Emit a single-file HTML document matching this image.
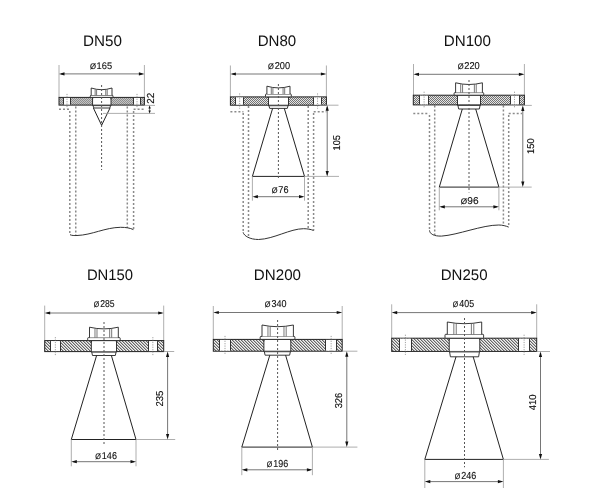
<!DOCTYPE html><html><head><meta charset="utf-8"><style>html,body{margin:0;padding:0;background:#fff;}svg{display:block;will-change:transform;}</style></head><body>
<svg text-rendering="geometricPrecision" width="609" height="503" viewBox="0 0 609 503" font-family='"Liberation Sans", sans-serif'>
<defs>
<pattern id="hatchD" patternUnits="userSpaceOnUse" x="0" y="0" width="3" height="3"><rect width="3" height="3" fill="#f2f2f2"/><rect x="0" y="0" width="1" height="1" fill="#666"/><rect x="1" y="1" width="1" height="1" fill="#666"/><rect x="2" y="2" width="1" height="1" fill="#666"/><rect x="1" y="0" width="1" height="1" fill="#b8b8b8"/><rect x="2" y="1" width="1" height="1" fill="#b8b8b8"/><rect x="0" y="2" width="1" height="1" fill="#b8b8b8"/></pattern>
<pattern id="hatchX" patternUnits="userSpaceOnUse" x="0" y="0" width="2" height="2"><rect width="2" height="2" fill="#e4e4e4"/><rect width="1" height="1" fill="#737373"/><rect x="1" y="1" width="1" height="1" fill="#737373"/></pattern>
<pattern id="hatchG" patternUnits="userSpaceOnUse" x="0" y="0" width="2" height="2"><rect width="2" height="2" fill="#c4c4c4"/><rect width="1" height="1" fill="#8e8e8e"/><rect x="1" y="1" width="1" height="1" fill="#8e8e8e"/></pattern>
</defs>
<rect width="609" height="503" fill="#fff"/>
<text x="0" y="0" font-size="15.262" fill="#111" transform="matrix(0.99809 0 0 1 83.050 45.800)">DN50</text>
<line x1="59" y1="65" x2="59" y2="97.5" stroke="#999" stroke-width="0.8" />
<line x1="144.4" y1="65" x2="144.4" y2="97.5" stroke="#999" stroke-width="0.8" />
<line x1="61" y1="73.9" x2="142.4" y2="73.9" stroke="#666" stroke-width="0.9" />
<polygon points="59,73.9 64.5,72.30000000000001 64.5,75.5" fill="#111"/>
<polygon points="144.4,73.9 138.9,72.30000000000001 138.9,75.5" fill="#111"/>
<text x="0" y="0" font-size="9.593" fill="#111" stroke="#111" stroke-width="0.12" transform="matrix(0.97203 0 0 1 89.930 68.800)"><tspan font-size="8.000" stroke-width="0.2">Ø</tspan><tspan dx="0.570">165</tspan></text>
<line x1="59" y1="109.2" x2="69.8" y2="109.2" stroke="#8a8a8a" stroke-width="1.5" stroke-dasharray="2,2" />
<line x1="133.6" y1="109.2" x2="144.4" y2="109.2" stroke="#8a8a8a" stroke-width="1.5" stroke-dasharray="2,2" />
<line x1="69.8" y1="111" x2="69.8" y2="234.5" stroke="#8a8a8a" stroke-width="1.5" stroke-dasharray="2,2" />
<line x1="133.6" y1="111" x2="133.6" y2="229.5" stroke="#8a8a8a" stroke-width="1.5" stroke-dasharray="2,2" />
<line x1="75.75" y1="106.5" x2="75.75" y2="235" stroke="#8a8a8a" stroke-width="1.5" stroke-dasharray="2,2" />
<line x1="127.3" y1="106.5" x2="127.3" y2="228" stroke="#8a8a8a" stroke-width="1.5" stroke-dasharray="2,2" />
<path d="M70,234.7 C72,235.6 74,235.6 77,235.5 C92,235 105,227.5 120.6,227.3 C126,227.3 130,228 133.4,229.6" fill="none" stroke="#333" stroke-width="1"/>
<rect x="59" y="97.4" width="85.4" height="7.699999999999989" fill="url(#hatchG)" stroke="#222" stroke-width="1"/>
<rect x="63.8" y="97.9" width="6.400000000000006" height="6.699999999999989" fill="#fff"/>
<line x1="63.5" y1="97.9" x2="63.5" y2="104.6" stroke="#333" stroke-width="1" />
<line x1="70.5" y1="97.9" x2="70.5" y2="104.6" stroke="#333" stroke-width="1" />
<line x1="67.0" y1="93.9" x2="67.0" y2="108.6" stroke="#777" stroke-width="0.7" stroke-dasharray="1.2,1.2" />
<rect x="133.8" y="97.9" width="6.399999999999977" height="6.699999999999989" fill="#fff"/>
<line x1="133.5" y1="97.9" x2="133.5" y2="104.6" stroke="#333" stroke-width="1" />
<line x1="140.5" y1="97.9" x2="140.5" y2="104.6" stroke="#333" stroke-width="1" />
<line x1="137.0" y1="93.9" x2="137.0" y2="108.6" stroke="#777" stroke-width="0.7" stroke-dasharray="1.2,1.2" />
<rect x="92.6" y="97.4" width="18.400000000000006" height="7.699999999999989" fill="#fff" stroke="#222" stroke-width="0.9"/>
<path d="M92.89999999999999,105.1 L93.8,108 L109.8,108 L110.7,105.1" fill="#fff" stroke="#222" stroke-width="0.9"/>
<path d="M91.6,97.7 L93.39999999999999,97.7 L92.8,99.60000000000001 Z M112,97.7 L110.2,97.7 L110.8,99.60000000000001 Z" fill="#333"/>
<line x1="92.89999999999999" y1="105.6" x2="110.7" y2="105.6" stroke="#333" stroke-width="1" />
<rect x="90.3" y="95.3" width="22.700000000000003" height="2.1000000000000085" fill="#fff" stroke="#222" stroke-width="0.9" rx="0.8"/>
<path d="M91.2,95.3 L91.2,88 Q101.6,91.4 112,88 L112,95.3" fill="#fff" stroke="#222" stroke-width="0.9"/>
<line x1="95.152" y1="89.4" x2="95.152" y2="95.3" stroke="#555" stroke-width="0.8" />
<line x1="96.608" y1="89.4" x2="96.608" y2="95.3" stroke="#555" stroke-width="0.8" />
<line x1="105.76" y1="89.4" x2="105.76" y2="95.3" stroke="#555" stroke-width="0.8" />
<line x1="107.21600000000001" y1="89.4" x2="107.21600000000001" y2="95.3" stroke="#555" stroke-width="0.8" />
<path d="M93.4,108 L101.6,125.3 L110,108" fill="none" stroke="#222" stroke-width="1"/>
<line x1="101.6" y1="85" x2="101.6" y2="170" stroke="#555" stroke-width="1" stroke-dasharray="2,2" />
<line x1="144.4" y1="105.4" x2="155" y2="105.4" stroke="#999" stroke-width="0.8" />
<line x1="103" y1="113.4" x2="155" y2="113.4" stroke="#999" stroke-width="0.8" />
<line x1="149.6" y1="107.4" x2="149.6" y2="111.4" stroke="#666" stroke-width="0.9" />
<polygon points="149.6,105.4 148.4,108.4 150.79999999999998,108.4" fill="#111"/>
<polygon points="149.6,113.4 148.4,110.4 150.79999999999998,110.4" fill="#111"/>
<text x="0" y="0" font-size="10.175" fill="#111" stroke="#111" stroke-width="0.15" transform="matrix(0 -0.96174 1 0 154.400 103.692)">22</text>
<text x="0" y="0" font-size="15.262" fill="#111" transform="matrix(0.98733 0 0 1 257.664 45.800)">DN80</text>
<line x1="230.4" y1="65.5" x2="230.4" y2="97" stroke="#999" stroke-width="0.8" />
<line x1="326.4" y1="65.5" x2="326.4" y2="97" stroke="#999" stroke-width="0.8" />
<line x1="232.4" y1="74.0" x2="324.4" y2="74.0" stroke="#666" stroke-width="0.9" />
<polygon points="230.4,74.0 235.9,72.4 235.9,75.6" fill="#111"/>
<polygon points="326.4,74.0 320.9,72.4 320.9,75.6" fill="#111"/>
<text x="0" y="0" font-size="9.884" fill="#111" stroke="#111" stroke-width="0.12" transform="matrix(0.93544 0 0 1 268.041 69.000)"><tspan font-size="8.000" stroke-width="0.2">Ø</tspan><tspan dx="0.827">200</tspan></text>
<line x1="230.4" y1="111.8" x2="243.4" y2="111.8" stroke="#8a8a8a" stroke-width="1.5" stroke-dasharray="2,2" />
<line x1="313.7" y1="111.8" x2="326.4" y2="111.8" stroke="#8a8a8a" stroke-width="1.5" stroke-dasharray="2,2" />
<line x1="243.2" y1="113" x2="243.2" y2="232" stroke="#8a8a8a" stroke-width="1.5" stroke-dasharray="2,2" />
<line x1="313.6" y1="113" x2="313.6" y2="230.5" stroke="#8a8a8a" stroke-width="1.5" stroke-dasharray="2,2" />
<line x1="248.5" y1="106" x2="248.5" y2="237" stroke="#8a8a8a" stroke-width="1.5" stroke-dasharray="2,2" />
<line x1="308.2" y1="106" x2="308.2" y2="229" stroke="#8a8a8a" stroke-width="1.5" stroke-dasharray="2,2" />
<path d="M243.1,232.3 C244,236 250,239.5 258.5,239.5 C274,239 290,228.7 303.6,228.7 C307,228.7 311,229.3 313.6,230.5" fill="none" stroke="#333" stroke-width="1"/>
<rect x="230.4" y="96.9" width="95.99999999999997" height="8.299999999999997" fill="url(#hatchX)" stroke="#222" stroke-width="1"/>
<rect x="235.9" y="97.4" width="7.5" height="7.299999999999997" fill="#fff"/>
<line x1="235.5" y1="97.4" x2="235.5" y2="104.7" stroke="#333" stroke-width="1" />
<line x1="243.5" y1="97.4" x2="243.5" y2="104.7" stroke="#333" stroke-width="1" />
<line x1="239.65" y1="93.4" x2="239.65" y2="108.7" stroke="#777" stroke-width="0.7" stroke-dasharray="1.2,1.2" />
<rect x="313.7" y="97.4" width="7.699999999999989" height="7.299999999999997" fill="#fff"/>
<line x1="313.5" y1="97.4" x2="313.5" y2="104.7" stroke="#333" stroke-width="1" />
<line x1="321.5" y1="97.4" x2="321.5" y2="104.7" stroke="#333" stroke-width="1" />
<line x1="317.54999999999995" y1="93.4" x2="317.54999999999995" y2="108.7" stroke="#777" stroke-width="0.7" stroke-dasharray="1.2,1.2" />
<rect x="268.5" y="96.9" width="20.0" height="8.299999999999997" fill="#fff" stroke="#222" stroke-width="0.9"/>
<path d="M268.8,105.2 L269.7,108.4 L287.3,108.4 L288.2,105.2" fill="#fff" stroke="#222" stroke-width="0.9"/>
<path d="M267.5,97.2 L269.3,97.2 L268.7,99.10000000000001 Z M289.5,97.2 L287.7,97.2 L288.3,99.10000000000001 Z" fill="#333"/>
<line x1="268.8" y1="105.7" x2="288.2" y2="105.7" stroke="#333" stroke-width="1" />
<rect x="265.5" y="94" width="25.80000000000001" height="2.9000000000000057" fill="#fff" stroke="#222" stroke-width="0.9" rx="0.8"/>
<path d="M266.9,94 L266.9,86.2 Q278.4,89.60000000000001 290,86.2 L290,94" fill="#fff" stroke="#222" stroke-width="0.9"/>
<line x1="271.289" y1="87.60000000000001" x2="271.289" y2="94" stroke="#555" stroke-width="0.8" />
<line x1="272.906" y1="87.60000000000001" x2="272.906" y2="94" stroke="#555" stroke-width="0.8" />
<line x1="283.07" y1="87.60000000000001" x2="283.07" y2="94" stroke="#555" stroke-width="0.8" />
<line x1="284.687" y1="87.60000000000001" x2="284.687" y2="94" stroke="#555" stroke-width="0.8" />
<path d="M272.6,108.4 L252.4,176.4 L304.5,176.4 L284.3,108.4" fill="none" stroke="#222" stroke-width="1"/>
<line x1="278.4" y1="84" x2="278.4" y2="180" stroke="#555" stroke-width="1" stroke-dasharray="2,2" />
<line x1="304.5" y1="176.4" x2="339" y2="176.4" stroke="#999" stroke-width="0.8" />
<line x1="319.5" y1="105.2" x2="338.5" y2="105.2" stroke="#999" stroke-width="0.8" />
<line x1="327.2" y1="107.2" x2="327.2" y2="174.4" stroke="#666" stroke-width="0.9" />
<polygon points="327.2,105.2 325.59999999999997,110.7 328.8,110.7" fill="#111"/>
<polygon points="327.2,176.4 325.59999999999997,170.9 328.8,170.9" fill="#111"/>
<text x="0" y="0" font-size="9.884" fill="#111" stroke="#111" stroke-width="0.15" transform="matrix(0 -0.93324 1 0 340.200 150.403)">105</text>
<line x1="252.4" y1="176.4" x2="252.4" y2="200.7" stroke="#999" stroke-width="0.8" />
<line x1="304.5" y1="176.4" x2="304.5" y2="200.7" stroke="#999" stroke-width="0.8" />
<line x1="254.4" y1="196.7" x2="302.5" y2="196.7" stroke="#666" stroke-width="0.9" />
<polygon points="252.4,196.7 257.9,195.1 257.9,198.29999999999998" fill="#111"/>
<polygon points="304.5,196.7 299.0,195.1 299.0,198.29999999999998" fill="#111"/>
<text x="0" y="0" font-size="9.884" fill="#111" stroke="#111" stroke-width="0.12" transform="matrix(0.92420 0 0 1 271.744 192.900)"><tspan font-size="8.000" stroke-width="0.2">Ø</tspan><tspan dx="0.916">76</tspan></text>
<text x="0" y="0" font-size="15.262" fill="#111" transform="matrix(0.99433 0 0 1 443.755 45.800)">DN100</text>
<line x1="413.5" y1="64" x2="413.5" y2="95" stroke="#999" stroke-width="0.8" />
<line x1="524.4" y1="64" x2="524.4" y2="95" stroke="#999" stroke-width="0.8" />
<line x1="415.5" y1="74.3" x2="522.4" y2="74.3" stroke="#666" stroke-width="0.9" />
<polygon points="413.5,74.3 419.0,72.7 419.0,75.89999999999999" fill="#111"/>
<polygon points="524.4,74.3 518.9,72.7 518.9,75.89999999999999" fill="#111"/>
<text x="0" y="0" font-size="9.884" fill="#111" stroke="#111" stroke-width="0.12" transform="matrix(0.94184 0 0 1 457.639 68.700)"><tspan font-size="8.000" stroke-width="0.2">Ø</tspan><tspan dx="0.777">220</tspan></text>
<line x1="413.3" y1="113.4" x2="429.4" y2="113.4" stroke="#8a8a8a" stroke-width="1.5" stroke-dasharray="2,2" />
<line x1="508.7" y1="113.4" x2="522" y2="113.4" stroke="#8a8a8a" stroke-width="1.5" stroke-dasharray="2,2" />
<line x1="429.5" y1="115" x2="429.5" y2="230.4" stroke="#8a8a8a" stroke-width="1.5" stroke-dasharray="2,2" />
<line x1="508.7" y1="115" x2="508.7" y2="227" stroke="#8a8a8a" stroke-width="1.5" stroke-dasharray="2,2" />
<line x1="434.7" y1="105.5" x2="434.7" y2="235" stroke="#8a8a8a" stroke-width="1.5" stroke-dasharray="2,2" />
<line x1="503.4" y1="105.5" x2="503.4" y2="225.5" stroke="#8a8a8a" stroke-width="1.5" stroke-dasharray="2,2" />
<path d="M429.5,230.4 C429.8,234 434,236.3 441.5,236.1 C458,235 482,225 498.8,225 C502.5,225 506,226 508.7,227.1" fill="none" stroke="#333" stroke-width="1"/>
<rect x="413.3" y="95.2" width="111.09999999999997" height="9.700000000000003" fill="url(#hatchX)" stroke="#222" stroke-width="1"/>
<rect x="419.9" y="95.7" width="8.400000000000034" height="8.700000000000003" fill="#fff"/>
<line x1="419.5" y1="95.7" x2="419.5" y2="104.4" stroke="#333" stroke-width="1" />
<line x1="428.5" y1="95.7" x2="428.5" y2="104.4" stroke="#333" stroke-width="1" />
<line x1="424.1" y1="91.7" x2="424.1" y2="108.4" stroke="#777" stroke-width="0.7" stroke-dasharray="1.2,1.2" />
<rect x="510" y="95.7" width="9" height="8.700000000000003" fill="#fff"/>
<line x1="510.5" y1="95.7" x2="510.5" y2="104.4" stroke="#333" stroke-width="1" />
<line x1="519.5" y1="95.7" x2="519.5" y2="104.4" stroke="#333" stroke-width="1" />
<line x1="514.5" y1="91.7" x2="514.5" y2="108.4" stroke="#777" stroke-width="0.7" stroke-dasharray="1.2,1.2" />
<rect x="457.5" y="95.2" width="23.0" height="9.700000000000003" fill="#fff" stroke="#222" stroke-width="0.9"/>
<path d="M457.8,104.9 L458.7,109 L479.3,109 L480.2,104.9" fill="#fff" stroke="#222" stroke-width="0.9"/>
<path d="M456.5,95.5 L458.3,95.5 L457.7,97.4 Z M481.5,95.5 L479.7,95.5 L480.3,97.4 Z" fill="#333"/>
<line x1="457.8" y1="105.4" x2="480.2" y2="105.4" stroke="#333" stroke-width="1" />
<rect x="454.1" y="92.6" width="29.599999999999966" height="2.6000000000000085" fill="#fff" stroke="#222" stroke-width="0.9" rx="0.8"/>
<path d="M455.6,92.6 L455.6,82.8 Q469,86.2 482.4,82.8 L482.4,92.6" fill="#fff" stroke="#222" stroke-width="0.9"/>
<line x1="460.692" y1="84.2" x2="460.692" y2="92.6" stroke="#555" stroke-width="0.8" />
<line x1="462.568" y1="84.2" x2="462.568" y2="92.6" stroke="#555" stroke-width="0.8" />
<line x1="474.36" y1="84.2" x2="474.36" y2="92.6" stroke="#555" stroke-width="0.8" />
<line x1="476.236" y1="84.2" x2="476.236" y2="92.6" stroke="#555" stroke-width="0.8" />
<path d="M462.3,109 L439.3,187.1 L498.9,187.1 L475.7,109" fill="none" stroke="#222" stroke-width="1"/>
<line x1="469" y1="80" x2="469" y2="192.5" stroke="#555" stroke-width="1" stroke-dasharray="2,2" />
<line x1="498.9" y1="187.1" x2="531.7" y2="187.1" stroke="#999" stroke-width="0.8" />
<line x1="517" y1="105.4" x2="531.8" y2="105.4" stroke="#999" stroke-width="0.8" />
<line x1="522.8" y1="107.4" x2="522.8" y2="185.1" stroke="#666" stroke-width="0.9" />
<polygon points="522.8,105.4 521.1999999999999,110.9 524.4,110.9" fill="#111"/>
<polygon points="522.8,187.1 521.1999999999999,181.6 524.4,181.6" fill="#111"/>
<text x="0" y="0" font-size="9.884" fill="#111" stroke="#111" stroke-width="0.15" transform="matrix(0 -0.95102 1 0 533.800 154.016)">150</text>
<line x1="439.3" y1="187.1" x2="439.3" y2="210.3" stroke="#999" stroke-width="0.8" />
<line x1="498.9" y1="187.1" x2="498.9" y2="210.3" stroke="#999" stroke-width="0.8" />
<line x1="441.3" y1="206.8" x2="496.9" y2="206.8" stroke="#666" stroke-width="0.9" />
<polygon points="439.3,206.8 444.8,205.20000000000002 444.8,208.4" fill="#111"/>
<polygon points="498.9,206.8 493.4,205.20000000000002 493.4,208.4" fill="#111"/>
<text x="0" y="0" font-size="9.884" fill="#111" stroke="#111" stroke-width="0.12" transform="matrix(1.02337 0 0 1 460.716 203.800)"><tspan font-size="8.000" stroke-width="0.2">Ø</tspan><tspan dx="0.205">96</tspan></text>
<text x="0" y="0" font-size="15.262" fill="#111" transform="matrix(0.97243 0 0 1 86.883 279.800)">DN150</text>
<line x1="44.7" y1="305.6" x2="44.7" y2="340.6" stroke="#999" stroke-width="0.8" />
<line x1="163.7" y1="305.6" x2="163.7" y2="340.6" stroke="#999" stroke-width="0.8" />
<line x1="46.7" y1="313" x2="161.7" y2="313" stroke="#666" stroke-width="0.9" />
<polygon points="44.7,313 50.2,311.4 50.2,314.6" fill="#111"/>
<polygon points="163.7,313 158.2,311.4 158.2,314.6" fill="#111"/>
<text x="0" y="0" font-size="9.884" fill="#111" stroke="#111" stroke-width="0.12" transform="matrix(0.87299 0 0 1 93.658 307.300)"><tspan font-size="8.000" stroke-width="0.2">Ø</tspan><tspan dx="1.347">285</tspan></text>
<rect x="44.7" y="340.6" width="118.99999999999999" height="11.0" fill="url(#hatchD)" stroke="#222" stroke-width="1"/>
<rect x="50.7" y="341.1" width="9.299999999999997" height="10.0" fill="#fff"/>
<line x1="50.5" y1="341.1" x2="50.5" y2="351.1" stroke="#333" stroke-width="1" />
<line x1="60.5" y1="341.1" x2="60.5" y2="351.1" stroke="#333" stroke-width="1" />
<line x1="55.35" y1="337.1" x2="55.35" y2="355.1" stroke="#777" stroke-width="0.7" stroke-dasharray="1.2,1.2" />
<rect x="148.3" y="341.1" width="9.099999999999994" height="10.0" fill="#fff"/>
<line x1="148.5" y1="341.1" x2="148.5" y2="351.1" stroke="#333" stroke-width="1" />
<line x1="157.5" y1="341.1" x2="157.5" y2="351.1" stroke="#333" stroke-width="1" />
<line x1="152.85000000000002" y1="337.1" x2="152.85000000000002" y2="355.1" stroke="#777" stroke-width="0.7" stroke-dasharray="1.2,1.2" />
<rect x="91.3" y="340.6" width="25.200000000000003" height="11.0" fill="#fff" stroke="#222" stroke-width="0.9"/>
<path d="M91.6,351.6 L92.5,355.5 L115.3,355.5 L116.2,351.6" fill="#fff" stroke="#222" stroke-width="0.9"/>
<path d="M90.3,340.90000000000003 L92.1,340.90000000000003 L91.5,342.8 Z M117.5,340.90000000000003 L115.7,340.90000000000003 L116.3,342.8 Z" fill="#333"/>
<line x1="91.6" y1="352.1" x2="116.2" y2="352.1" stroke="#333" stroke-width="1" />
<rect x="87.7" y="337.6" width="32.5" height="3.0" fill="#fff" stroke="#222" stroke-width="0.9" rx="0.8"/>
<path d="M89.5,337.6 L89.5,327.2 Q104,330.59999999999997 118.3,327.2 L118.3,337.6" fill="#fff" stroke="#222" stroke-width="0.9"/>
<line x1="94.972" y1="328.59999999999997" x2="94.972" y2="337.6" stroke="#555" stroke-width="0.8" />
<line x1="96.988" y1="328.59999999999997" x2="96.988" y2="337.6" stroke="#555" stroke-width="0.8" />
<line x1="109.66" y1="328.59999999999997" x2="109.66" y2="337.6" stroke="#555" stroke-width="0.8" />
<line x1="111.676" y1="328.59999999999997" x2="111.676" y2="337.6" stroke="#555" stroke-width="0.8" />
<path d="M96.6,355.5 L71.3,439.5 L136,439.5 L111.4,355.5" fill="none" stroke="#222" stroke-width="1"/>
<line x1="104" y1="322" x2="104" y2="445" stroke="#555" stroke-width="1" stroke-dasharray="2,2" />
<line x1="136" y1="439.5" x2="175.2" y2="439.5" stroke="#999" stroke-width="0.8" />
<line x1="163.7" y1="351.5" x2="174.2" y2="351.5" stroke="#999" stroke-width="0.8" />
<line x1="167.6" y1="353.5" x2="167.6" y2="437.5" stroke="#666" stroke-width="0.9" />
<polygon points="167.6,351.5 166.0,357.0 169.2,357.0" fill="#111"/>
<polygon points="167.6,439.5 166.0,434.0 169.2,434.0" fill="#111"/>
<text x="0" y="0" font-size="10.029" fill="#111" stroke="#111" stroke-width="0.15" transform="matrix(0 -0.94890 1 0 163.200 406.579)">235</text>
<line x1="71.3" y1="439.5" x2="71.3" y2="466.3" stroke="#999" stroke-width="0.8" />
<line x1="136" y1="439.5" x2="136" y2="466.3" stroke="#999" stroke-width="0.8" />
<line x1="73.3" y1="461.7" x2="134" y2="461.7" stroke="#666" stroke-width="0.9" />
<polygon points="71.3,461.7 76.8,460.09999999999997 76.8,463.3" fill="#111"/>
<polygon points="136,461.7 130.5,460.09999999999997 130.5,463.3" fill="#111"/>
<text x="0" y="0" font-size="9.884" fill="#111" stroke="#111" stroke-width="0.12" transform="matrix(0.91195 0 0 1 95.247 458.500)"><tspan font-size="8.000" stroke-width="0.2">Ø</tspan><tspan dx="1.026">146</tspan></text>
<text x="0" y="0" font-size="15.262" fill="#111" transform="matrix(0.99214 0 0 1 253.858 279.800)">DN200</text>
<line x1="213.3" y1="306" x2="213.3" y2="339.5" stroke="#999" stroke-width="0.8" />
<line x1="342.2" y1="306" x2="342.2" y2="339.5" stroke="#999" stroke-width="0.8" />
<line x1="215.3" y1="312.5" x2="340.2" y2="312.5" stroke="#666" stroke-width="0.9" />
<polygon points="213.3,312.5 218.8,310.9 218.8,314.1" fill="#111"/>
<polygon points="342.2,312.5 336.7,310.9 336.7,314.1" fill="#111"/>
<text x="0" y="0" font-size="9.884" fill="#111" stroke="#111" stroke-width="0.12" transform="matrix(0.91014 0 0 1 264.848 307.300)"><tspan font-size="8.000" stroke-width="0.2">Ø</tspan><tspan dx="1.023">340</tspan></text>
<rect x="213.3" y="339.4" width="128.89999999999998" height="11.800000000000011" fill="url(#hatchD)" stroke="#222" stroke-width="1"/>
<rect x="219.5" y="339.9" width="11.0" height="10.800000000000011" fill="#fff"/>
<line x1="219.5" y1="339.9" x2="219.5" y2="350.7" stroke="#333" stroke-width="1" />
<line x1="230.5" y1="339.9" x2="230.5" y2="350.7" stroke="#333" stroke-width="1" />
<line x1="225.0" y1="335.9" x2="225.0" y2="354.7" stroke="#777" stroke-width="0.7" stroke-dasharray="1.2,1.2" />
<rect x="325.9" y="339.9" width="10.5" height="10.800000000000011" fill="#fff"/>
<line x1="325.5" y1="339.9" x2="325.5" y2="350.7" stroke="#333" stroke-width="1" />
<line x1="336.5" y1="339.9" x2="336.5" y2="350.7" stroke="#333" stroke-width="1" />
<line x1="331.15" y1="335.9" x2="331.15" y2="354.7" stroke="#777" stroke-width="0.7" stroke-dasharray="1.2,1.2" />
<rect x="263.9" y="339.4" width="26.900000000000034" height="11.800000000000011" fill="#fff" stroke="#222" stroke-width="0.9"/>
<path d="M264.2,351.2 L265.09999999999997,355.2 L289.6,355.2 L290.5,351.2" fill="#fff" stroke="#222" stroke-width="0.9"/>
<path d="M262.9,339.7 L264.7,339.7 L264.09999999999997,341.59999999999997 Z M291.8,339.7 L290.0,339.7 L290.6,341.59999999999997 Z" fill="#333"/>
<line x1="264.2" y1="351.7" x2="290.5" y2="351.7" stroke="#333" stroke-width="1" />
<rect x="260.2" y="336.4" width="34.69999999999999" height="3.0" fill="#fff" stroke="#222" stroke-width="0.9" rx="0.8"/>
<path d="M262,336.4 L262,325 Q277.6,328.4 293.4,325 L293.4,336.4" fill="#fff" stroke="#222" stroke-width="0.9"/>
<line x1="267.966" y1="326.4" x2="267.966" y2="336.4" stroke="#555" stroke-width="0.8" />
<line x1="270.164" y1="326.4" x2="270.164" y2="336.4" stroke="#555" stroke-width="0.8" />
<line x1="283.97999999999996" y1="326.4" x2="283.97999999999996" y2="336.4" stroke="#555" stroke-width="0.8" />
<line x1="286.178" y1="326.4" x2="286.178" y2="336.4" stroke="#555" stroke-width="0.8" />
<path d="M269.8,355.2 L241.8,447.1 L312.4,447.1 L285.6,355.2" fill="none" stroke="#222" stroke-width="1"/>
<line x1="277.6" y1="320" x2="277.6" y2="452" stroke="#555" stroke-width="1" stroke-dasharray="2,2" />
<line x1="312.4" y1="447.1" x2="357.4" y2="447.1" stroke="#999" stroke-width="0.8" />
<line x1="342.2" y1="351.2" x2="357.4" y2="351.2" stroke="#999" stroke-width="0.8" />
<line x1="346.8" y1="353.2" x2="346.8" y2="445.1" stroke="#666" stroke-width="0.9" />
<polygon points="346.8,351.2 345.2,356.7 348.40000000000003,356.7" fill="#111"/>
<polygon points="346.8,447.1 345.2,441.6 348.40000000000003,441.6" fill="#111"/>
<text x="0" y="0" font-size="10.029" fill="#111" stroke="#111" stroke-width="0.15" transform="matrix(0 -0.93648 1 0 342.000 408.358)">326</text>
<line x1="241.8" y1="447.1" x2="241.8" y2="475.2" stroke="#999" stroke-width="0.8" />
<line x1="312.4" y1="447.1" x2="312.4" y2="475.2" stroke="#999" stroke-width="0.8" />
<line x1="243.8" y1="469.8" x2="310.4" y2="469.8" stroke="#666" stroke-width="0.9" />
<polygon points="241.8,469.8 247.3,468.2 247.3,471.40000000000003" fill="#111"/>
<polygon points="312.4,469.8 306.9,468.2 306.9,471.40000000000003" fill="#111"/>
<text x="0" y="0" font-size="10.175" fill="#111" stroke="#111" stroke-width="0.12" transform="matrix(0.87955 0 0 1 266.656 466.800)"><tspan font-size="8.000" stroke-width="0.2">Ø</tspan><tspan dx="1.288">196</tspan></text>
<text x="0" y="0" font-size="15.262" fill="#111" transform="matrix(0.98557 0 0 1 440.766 279.800)">DN250</text>
<line x1="391.7" y1="304.3" x2="391.7" y2="338.2" stroke="#999" stroke-width="0.8" />
<line x1="536.7" y1="304.3" x2="536.7" y2="338.2" stroke="#999" stroke-width="0.8" />
<line x1="393.7" y1="312.6" x2="534.7" y2="312.6" stroke="#666" stroke-width="0.9" />
<polygon points="391.7,312.6 397.2,311.0 397.2,314.20000000000005" fill="#111"/>
<polygon points="536.7,312.6 531.2,311.0 531.2,314.20000000000005" fill="#111"/>
<text x="0" y="0" font-size="10.175" fill="#111" stroke="#111" stroke-width="0.12" transform="matrix(0.86776 0 0 1 452.759 307.300)"><tspan font-size="8.000" stroke-width="0.2">Ø</tspan><tspan dx="1.361">405</tspan></text>
<rect x="391.7" y="338.2" width="145.00000000000006" height="13.199999999999989" fill="url(#hatchD)" stroke="#222" stroke-width="1"/>
<rect x="399.8" y="338.7" width="11.199999999999989" height="12.199999999999989" fill="#fff"/>
<line x1="399.5" y1="338.7" x2="399.5" y2="350.9" stroke="#333" stroke-width="1" />
<line x1="411.5" y1="338.7" x2="411.5" y2="350.9" stroke="#333" stroke-width="1" />
<line x1="405.4" y1="334.7" x2="405.4" y2="354.9" stroke="#777" stroke-width="0.7" stroke-dasharray="1.2,1.2" />
<rect x="518.9" y="338.7" width="10.399999999999977" height="12.199999999999989" fill="#fff"/>
<line x1="518.5" y1="338.7" x2="518.5" y2="350.9" stroke="#333" stroke-width="1" />
<line x1="529.5" y1="338.7" x2="529.5" y2="350.9" stroke="#333" stroke-width="1" />
<line x1="524.0999999999999" y1="334.7" x2="524.0999999999999" y2="354.9" stroke="#777" stroke-width="0.7" stroke-dasharray="1.2,1.2" />
<rect x="449.2" y="338.2" width="30.600000000000023" height="13.199999999999989" fill="#fff" stroke="#222" stroke-width="0.9"/>
<path d="M449.5,351.4 L450.4,356.8 L478.6,356.8 L479.5,351.4" fill="#fff" stroke="#222" stroke-width="0.9"/>
<path d="M448.2,338.5 L450.0,338.5 L449.4,340.4 Z M480.8,338.5 L479.0,338.5 L479.6,340.4 Z" fill="#333"/>
<line x1="449.5" y1="351.9" x2="479.5" y2="351.9" stroke="#333" stroke-width="1" />
<rect x="445" y="334.3" width="38.60000000000002" height="3.8999999999999773" fill="#fff" stroke="#222" stroke-width="0.9" rx="0.8"/>
<path d="M447.3,334.3 L447.3,322 Q464.5,325.4 481.7,322 L481.7,334.3" fill="#fff" stroke="#222" stroke-width="0.9"/>
<line x1="453.836" y1="323.4" x2="453.836" y2="334.3" stroke="#555" stroke-width="0.8" />
<line x1="456.244" y1="323.4" x2="456.244" y2="334.3" stroke="#555" stroke-width="0.8" />
<line x1="471.38" y1="323.4" x2="471.38" y2="334.3" stroke="#555" stroke-width="0.8" />
<line x1="473.788" y1="323.4" x2="473.788" y2="334.3" stroke="#555" stroke-width="0.8" />
<path d="M456,356.8 L424.8,459.4 L503.4,459.4 L473.2,356.8" fill="none" stroke="#222" stroke-width="1"/>
<line x1="464.5" y1="318" x2="464.5" y2="467.3" stroke="#555" stroke-width="1" stroke-dasharray="2,2" />
<line x1="503.4" y1="459.4" x2="548.9" y2="459.4" stroke="#999" stroke-width="0.8" />
<line x1="536.7" y1="351.5" x2="550" y2="351.5" stroke="#999" stroke-width="0.8" />
<line x1="540.5" y1="353.5" x2="540.5" y2="457.4" stroke="#666" stroke-width="0.9" />
<polygon points="540.5,351.5 538.9,357.0 542.1,357.0" fill="#111"/>
<polygon points="540.5,459.4 538.9,453.9 542.1,453.9" fill="#111"/>
<text x="0" y="0" font-size="10.029" fill="#111" stroke="#111" stroke-width="0.15" transform="matrix(0 -0.94964 1 0 536.000 410.219)">410</text>
<line x1="424.8" y1="459.4" x2="424.8" y2="488" stroke="#999" stroke-width="0.8" />
<line x1="503.4" y1="459.4" x2="503.4" y2="488" stroke="#999" stroke-width="0.8" />
<line x1="426.8" y1="481.6" x2="501.4" y2="481.6" stroke="#666" stroke-width="0.9" />
<polygon points="424.8,481.6 430.3,480.0 430.3,483.20000000000005" fill="#111"/>
<polygon points="503.4,481.6 497.9,480.0 497.9,483.20000000000005" fill="#111"/>
<text x="0" y="0" font-size="10.175" fill="#111" stroke="#111" stroke-width="0.12" transform="matrix(0.88031 0 0 1 454.656 478.900)"><tspan font-size="8.000" stroke-width="0.2">Ø</tspan><tspan dx="1.268">246</tspan></text>
</svg></body></html>
